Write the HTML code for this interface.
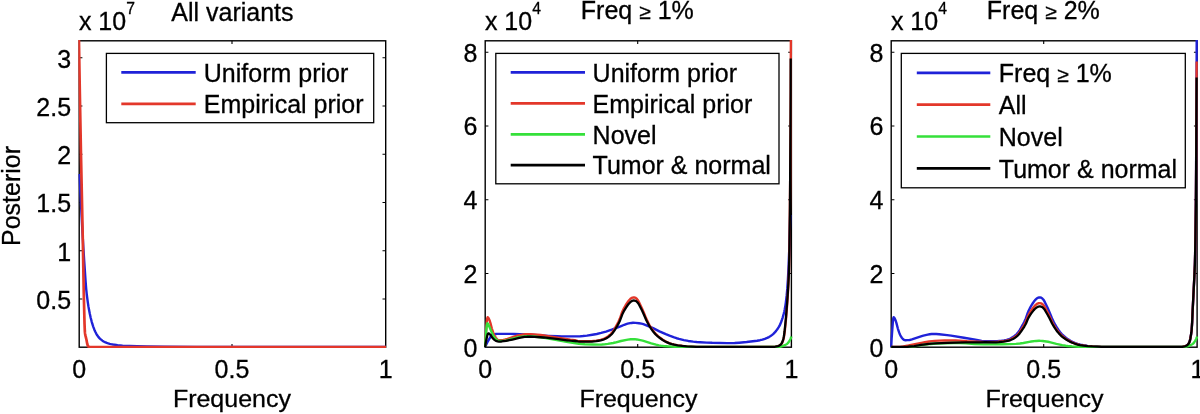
<!DOCTYPE html>
<html><head><meta charset="utf-8"><title>Posterior frequency plots</title>
<style>
html,body{margin:0;padding:0;background:#fff;}
svg{display:block;font-family:"Liberation Sans",Arial,Helvetica,sans-serif;fill:#000;}
text{stroke:#000;stroke-width:0.3px;}
</style></head><body>
<svg width="1200" height="414" viewBox="0 0 1200 414">
<rect x="0" y="0" width="1200" height="414" fill="#fff"/>
<clipPath id="c1"><rect x="78.3" y="40.099999999999994" width="309.5" height="307.79999999999995"/></clipPath>
<rect x="79.2" y="40.8" width="306.5" height="306.4" fill="none" stroke="#000" stroke-width="1.4"/>
<path d="M79.2,298.95 h3.2 M385.7,298.95 h-3.2" stroke="#000" stroke-width="1.1"/>
<path d="M79.2,250.7 h3.2 M385.7,250.7 h-3.2" stroke="#000" stroke-width="1.1"/>
<path d="M79.2,202.45 h3.2 M385.7,202.45 h-3.2" stroke="#000" stroke-width="1.1"/>
<path d="M79.2,154.2 h3.2 M385.7,154.2 h-3.2" stroke="#000" stroke-width="1.1"/>
<path d="M79.2,105.94999999999999 h3.2 M385.7,105.94999999999999 h-3.2" stroke="#000" stroke-width="1.1"/>
<path d="M79.2,57.69999999999999 h3.2 M385.7,57.69999999999999 h-3.2" stroke="#000" stroke-width="1.1"/>
<path d="M232.0,347.2 v-3.2 M232.0,40.8 v3.2" stroke="#000" stroke-width="1.1"/>
<path d="M79.40,174.00 L82.31,229.42 L83.25,245.90 L84.16,260.37 L85.64,281.82 L86.14,288.30 L86.86,295.26 L87.78,302.20 L88.38,306.16 L89.07,310.10 L89.86,314.02 L90.74,317.92 L91.60,321.33 L92.43,324.22 L93.21,326.59 L94.27,329.40 L95.29,331.74 L96.21,333.56 L97.22,335.27 L98.33,336.83 L99.66,338.33 L100.79,339.41 L102.40,340.68 L103.65,341.47 L104.94,342.11 L106.79,342.89 L108.24,343.39 L109.71,343.82 L111.17,344.16 L113.12,344.50 L117.58,345.12 L122.58,345.60 L129.56,346.02 L137.06,346.32 L146.56,346.54 L164.06,346.79 L196.06,347.00 L386.00,347.00" fill="none" stroke="#1f22d8" stroke-width="2.4" stroke-linejoin="round" stroke-linecap="butt" clip-path="url(#c1)"/>
<path d="M78.90,38.00 L79.86,93.99 L80.97,153.48 L82.79,238.96 L83.75,292.45 L84.54,323.97 L84.83,330.95 L84.93,332.43 L85.13,333.91 L85.52,335.88 L86.46,339.79 L87.30,344.17 L87.75,345.54 L88.13,346.21 L88.37,346.46 L88.77,346.69 L89.29,346.88 L89.83,346.99 L90.32,347.00 L386.00,347.00" fill="none" stroke="#e3372a" stroke-width="2.7" stroke-linejoin="round" stroke-linecap="butt" clip-path="url(#c1)"/>
<text x="71.1" y="308.84999999999997" font-size="25" text-anchor="end">0.5</text>
<text x="71.1" y="260.59999999999997" font-size="25" text-anchor="end">1</text>
<text x="71.1" y="212.35" font-size="25" text-anchor="end">1.5</text>
<text x="71.1" y="164.1" font-size="25" text-anchor="end">2</text>
<text x="71.1" y="115.85" font-size="25" text-anchor="end">2.5</text>
<text x="71.1" y="67.6" font-size="25" text-anchor="end">3</text>
<text x="79.2" y="378.4" font-size="25" text-anchor="middle">0</text>
<text x="232.0" y="378.4" font-size="25" text-anchor="middle">0.5</text>
<text x="385.7" y="378.4" font-size="25" text-anchor="middle">1</text>
<text font-size="25" text-anchor="middle" transform="translate(231.89999999999998,407.2) scale(1,0.94)">Frequency</text>
<text x="78.9" y="29.5" font-size="25" text-anchor="start">x 10</text>
<text x="126.30000000000001" y="14.0" font-size="15.7" text-anchor="start">7</text>
<text x="232.39999999999998" y="21.0" font-size="25" text-anchor="middle">All variants</text>
<text font-size="25" text-anchor="middle" transform="translate(20.3,196) rotate(-90)">Posterior</text>
<rect x="106.4" y="53.4" width="267.29999999999995" height="69.30000000000001" fill="#fff" stroke="#000" stroke-width="1.3"/>
<path d="M121.3,72.4 H195.7" stroke="#1f22d8" stroke-width="2.7"/>
<text x="203.8" y="81.60000000000001" font-size="25" text-anchor="start">Uniform prior</text>
<path d="M121.3,103.9 H195.7" stroke="#e3372a" stroke-width="2.7"/>
<text x="203.8" y="113.10000000000001" font-size="25" text-anchor="start">Empirical prior</text>
<clipPath id="c2"><rect x="483.7" y="40.099999999999994" width="309.2" height="307.79999999999995"/></clipPath>
<rect x="485.2" y="40.8" width="306.2" height="306.4" fill="none" stroke="#000" stroke-width="1.4"/>
<path d="M485.2,273.45 h3.2 M791.4,273.45 h-3.2" stroke="#000" stroke-width="1.1"/>
<path d="M485.2,199.7 h3.2 M791.4,199.7 h-3.2" stroke="#000" stroke-width="1.1"/>
<path d="M485.2,125.94999999999999 h3.2 M791.4,125.94999999999999 h-3.2" stroke="#000" stroke-width="1.1"/>
<path d="M485.2,52.19999999999999 h3.2 M791.4,52.19999999999999 h-3.2" stroke="#000" stroke-width="1.1"/>
<path d="M637.7,347.2 v-3.2 M637.7,40.8 v3.2" stroke="#000" stroke-width="1.1"/>
<path d="M485.20,347.00 L486.40,344.25 L487.51,342.01 L488.72,339.82 L490.79,336.33 L491.41,335.59 L492.17,334.96 L493.07,334.43 L493.54,334.25 L494.00,334.17 L495.98,333.97 L497.50,333.90 L510.51,333.90 L514.01,333.97 L526.00,334.48 L548.46,335.83 L557.45,336.23 L561.95,336.37 L566.45,336.40 L573.45,336.33 L580.44,336.19 L582.94,336.04 L586.92,335.61 L592.37,334.75 L596.79,333.96 L601.17,332.93 L605.99,331.55 L611.70,329.73 L620.56,326.29 L624.30,324.76 L626.18,324.08 L627.61,323.69 L630.05,323.18 L631.54,322.94 L633.04,322.81 L635.53,322.88 L639.03,323.26 L641.46,323.67 L643.38,324.20 L645.75,325.06 L651.33,327.36 L653.59,328.42 L659.41,331.33 L665.80,334.20 L669.50,335.71 L674.20,337.43 L676.58,338.23 L678.98,338.93 L683.83,340.10 L688.26,340.94 L693.21,341.60 L696.70,341.95 L700.19,342.21 L706.68,342.59 L712.18,342.82 L727.17,343.09 L731.17,343.09 L734.67,342.97 L739.16,342.68 L746.64,342.05 L757.06,340.71 L760.01,340.20 L762.44,339.61 L764.83,338.86 L767.16,337.94 L768.97,337.06 L770.25,336.32 L771.88,335.14 L773.40,333.84 L774.81,332.42 L776.11,330.90 L777.32,329.30 L778.69,327.21 L779.44,325.91 L780.30,324.11 L781.23,321.78 L782.08,319.43 L782.69,317.53 L783.64,314.16 L784.25,311.73 L784.76,309.28 L785.28,306.33 L785.79,302.87 L786.68,295.42 L787.27,288.94 L787.93,278.97 L788.61,265.48 L789.21,250.49 L789.81,231.50 L790.20,215.00" fill="none" stroke="#1f22d8" stroke-width="2.4" stroke-linejoin="round" stroke-linecap="butt" clip-path="url(#c2)"/>
<path d="M485.20,347.00 L485.33,343.00 L485.57,338.50 L486.78,321.97 L487.02,319.70 L487.25,318.37 L487.51,317.50 L487.71,317.23 L487.82,317.20 L488.20,317.65 L488.74,318.63 L489.30,319.79 L489.88,321.25 L490.45,323.15 L491.84,328.51 L493.12,332.37 L494.05,334.72 L494.95,336.42 L495.81,337.74 L496.49,338.66 L497.25,339.46 L497.64,339.78 L498.05,340.02 L498.46,340.16 L499.33,340.19 L501.87,340.08 L503.39,339.96 L504.36,339.80 L506.29,339.27 L514.86,336.35 L517.26,335.66 L521.17,334.90 L523.66,334.50 L525.65,334.28 L527.65,334.20 L530.64,334.27 L534.13,334.49 L540.62,335.06 L544.09,335.47 L548.04,336.07 L567.30,339.21 L570.27,339.63 L574.74,340.16 L575.71,340.36 L578.13,341.08 L579.11,341.20 L588.61,341.30 L591.61,341.17 L596.08,340.65 L598.07,340.35 L600.54,339.85 L602.92,339.20 L604.31,338.64 L605.66,337.93 L607.37,336.89 L608.59,336.02 L609.76,335.04 L610.84,334.00 L611.81,332.90 L612.72,331.72 L613.84,330.05 L615.14,327.88 L617.10,324.39 L618.48,321.71 L619.90,318.52 L621.68,313.30 L622.41,311.45 L623.92,308.29 L625.65,305.23 L626.98,303.11 L628.13,301.44 L629.07,300.27 L630.09,299.21 L630.86,298.50 L631.69,297.92 L632.59,297.58 L633.59,297.40 L634.08,297.43 L635.07,297.66 L635.51,297.83 L635.93,298.08 L636.34,298.41 L637.08,299.14 L637.68,299.89 L638.22,300.71 L638.93,302.05 L641.75,307.96 L643.76,312.54 L646.00,318.11 L648.15,322.62 L649.58,325.27 L651.12,327.84 L652.80,330.33 L654.33,332.30 L655.99,334.18 L657.78,335.91 L660.12,337.81 L662.56,339.55 L664.68,340.91 L666.43,341.87 L669.16,343.10 L671.52,343.96 L674.41,344.70 L678.36,345.41 L683.32,346.04 L687.81,346.44 L693.30,346.74 L697.30,346.88 L714.79,346.99 L773.29,347.00 L775.29,346.76 L778.20,346.05 L779.15,345.67 L780.02,345.19 L781.19,344.22 L781.82,343.43 L782.47,342.17 L783.01,340.76 L783.45,339.27 L783.80,337.78 L784.24,335.34 L784.89,330.38 L786.16,317.42 L787.28,302.97 L787.83,294.48 L788.33,285.50 L788.93,272.51 L789.29,256.52 L789.60,236.52 L790.24,174.02 L790.62,116.02 L790.90,38.00" fill="none" stroke="#e3372a" stroke-width="2.4" stroke-linejoin="round" stroke-linecap="butt" clip-path="url(#c2)"/>
<path d="M485.20,347.00 L485.32,343.50 L485.53,340.00 L486.49,327.84 L486.76,325.50 L487.01,324.15 L487.30,323.35 L487.52,323.20 L487.87,323.61 L488.63,325.10 L489.82,327.71 L491.70,332.35 L493.01,335.09 L494.00,336.87 L494.86,338.04 L495.89,339.15 L496.69,339.90 L497.56,340.53 L498.00,340.77 L498.45,340.93 L498.90,341.00 L502.88,340.87 L504.38,340.77 L505.36,340.63 L507.30,340.18 L511.65,338.89 L518.47,337.27 L524.41,336.36 L526.40,336.21 L528.39,336.22 L530.89,336.33 L533.88,336.56 L542.33,337.49 L545.78,338.05 L554.15,339.65 L567.94,342.08 L578.83,343.75 L581.81,344.09 L584.79,344.29 L592.79,344.52 L599.29,344.60 L601.78,344.55 L604.27,344.35 L607.76,343.88 L613.18,342.99 L615.13,342.54 L620.95,341.02 L627.84,339.63 L630.81,339.21 L633.29,339.10 L634.77,339.18 L636.76,339.44 L642.66,340.65 L645.06,341.33 L651.24,343.39 L656.09,344.67 L659.02,345.33 L660.99,345.67 L663.46,345.95 L667.44,346.31 L670.94,346.54 L674.44,346.69 L680.94,346.82 L695.94,346.99 L776.44,347.00 L779.93,346.79 L781.40,346.46 L783.29,345.79 L784.71,345.22 L786.07,344.52 L786.88,343.99 L787.61,343.37 L788.29,342.62 L789.46,340.94 L790.60,338.75 L790.98,337.82 L791.40,336.50" fill="none" stroke="#35e03a" stroke-width="2.4" stroke-linejoin="round" stroke-linecap="butt" clip-path="url(#c2)"/>
<path d="M485.20,347.00 L485.39,344.99 L485.68,343.00 L487.11,336.18 L487.42,334.99 L487.78,334.02 L488.20,333.42 L488.43,333.31 L488.70,333.36 L489.06,333.59 L490.31,334.79 L490.96,335.56 L492.63,338.08 L493.66,339.16 L494.44,339.85 L495.26,340.44 L496.13,340.85 L497.56,341.31 L499.06,341.58 L500.05,341.59 L501.54,341.48 L506.01,340.84 L512.38,339.52 L519.20,337.95 L524.63,336.98 L526.12,336.80 L527.61,336.70 L530.60,336.73 L534.10,336.87 L540.60,337.24 L543.59,337.48 L556.51,338.98 L566.93,340.28 L570.41,340.64 L574.89,340.99 L577.87,341.44 L579.36,341.56 L588.86,341.66 L591.85,341.53 L596.33,341.04 L598.32,340.76 L600.79,340.28 L603.18,339.67 L604.12,339.32 L605.50,338.69 L607.26,337.71 L608.51,336.90 L609.72,335.98 L610.86,334.98 L611.88,333.93 L612.83,332.79 L614.00,331.16 L615.37,329.03 L617.18,326.03 L618.63,323.39 L620.12,320.23 L621.84,315.52 L622.60,313.68 L624.20,310.57 L626.03,307.57 L627.43,305.49 L628.34,304.27 L629.32,303.14 L630.39,302.11 L631.18,301.44 L632.04,300.92 L632.97,300.63 L633.97,300.50 L634.47,300.55 L635.44,300.79 L636.31,301.26 L637.44,302.31 L638.32,303.45 L639.08,304.76 L642.05,310.60 L643.95,314.68 L646.33,320.19 L648.14,323.76 L649.63,326.37 L651.23,328.90 L652.68,330.95 L654.24,332.89 L655.94,334.74 L657.77,336.42 L660.16,338.27 L662.64,339.94 L664.79,341.24 L666.57,342.16 L669.33,343.33 L671.70,344.15 L674.12,344.74 L677.57,345.37 L682.03,345.94 L686.52,346.37 L691.01,346.64 L696.00,346.85 L707.00,346.96 L773.50,346.99 L775.49,346.72 L777.92,346.14 L779.35,345.58 L780.18,345.07 L780.56,344.75 L781.25,343.98 L781.78,343.15 L782.40,341.83 L783.07,339.91 L783.46,338.42 L783.85,336.47 L784.56,331.53 L785.86,318.57 L787.17,302.13 L787.76,293.65 L788.37,283.66 L788.92,272.68 L789.24,259.68 L789.52,243.69 L789.95,206.18 L790.52,122.19 L790.66,89.19 L790.70,58.50" fill="none" stroke="#000000" stroke-width="2.3" stroke-linejoin="round" stroke-linecap="butt" clip-path="url(#c2)"/>
<text x="477.4" y="356.7" font-size="25" text-anchor="end">0</text>
<text x="477.4" y="282.95" font-size="25" text-anchor="end">2</text>
<text x="477.4" y="209.2" font-size="25" text-anchor="end">4</text>
<text x="477.4" y="135.45" font-size="25" text-anchor="end">6</text>
<text x="477.4" y="61.69999999999999" font-size="25" text-anchor="end">8</text>
<text x="485.2" y="378.4" font-size="25" text-anchor="middle">0</text>
<text x="637.7" y="378.4" font-size="25" text-anchor="middle">0.5</text>
<text x="791.4" y="378.4" font-size="25" text-anchor="middle">1</text>
<text font-size="25" text-anchor="middle" transform="translate(638.4,407.2) scale(1,0.94)">Frequency</text>
<text x="484.9" y="29.5" font-size="25" text-anchor="start">x 10</text>
<text x="532.3" y="14.0" font-size="15.7" text-anchor="start">4</text>
<text x="580.8" y="19.4" font-size="25" text-anchor="start">Freq <tspan font-size="21">≥</tspan> 1%</text>
<rect x="495.8" y="53.4" width="283.2" height="130.4" fill="#fff" stroke="#000" stroke-width="1.3"/>
<path d="M510.7,72.3 H585" stroke="#1f22d8" stroke-width="2.7"/>
<text x="592.6" y="81.5" font-size="25" text-anchor="start">Uniform prior</text>
<path d="M510.7,103.3 H585" stroke="#e3372a" stroke-width="2.7"/>
<text x="592.6" y="112.5" font-size="25" text-anchor="start">Empirical prior</text>
<path d="M510.7,134.3 H585" stroke="#35e03a" stroke-width="2.7"/>
<text x="592.6" y="143.5" font-size="25" text-anchor="start">Novel</text>
<path d="M510.7,165.2 H585" stroke="#000000" stroke-width="2.7"/>
<text x="592.6" y="174.39999999999998" font-size="25" text-anchor="start">Tumor &amp; normal</text>
<clipPath id="c3"><rect x="889.7" y="40.099999999999994" width="308.89999999999986" height="307.79999999999995"/></clipPath>
<rect x="891.2" y="40.8" width="305.89999999999986" height="306.4" fill="none" stroke="#000" stroke-width="1.4"/>
<path d="M891.2,273.45 h3.2 M1197.1,273.45 h-3.2" stroke="#000" stroke-width="1.1"/>
<path d="M891.2,199.7 h3.2 M1197.1,199.7 h-3.2" stroke="#000" stroke-width="1.1"/>
<path d="M891.2,125.94999999999999 h3.2 M1197.1,125.94999999999999 h-3.2" stroke="#000" stroke-width="1.1"/>
<path d="M891.2,52.19999999999999 h3.2 M1197.1,52.19999999999999 h-3.2" stroke="#000" stroke-width="1.1"/>
<path d="M1043.7,347.2 v-3.2 M1043.7,40.8 v3.2" stroke="#000" stroke-width="1.1"/>
<path d="M891.20,347.00 L891.61,339.01 L892.90,321.36 L893.28,318.37 L893.52,317.49 L893.71,317.23 L893.82,317.20 L894.19,317.66 L894.74,318.64 L895.30,319.80 L895.88,321.25 L896.45,323.16 L897.84,328.51 L899.12,332.39 L900.05,334.75 L900.95,336.43 L901.83,337.70 L902.54,338.59 L903.32,339.37 L903.73,339.69 L904.57,340.12 L905.44,340.20 L907.44,340.11 L909.47,339.95 L910.44,339.78 L911.89,339.39 L920.95,336.36 L923.34,335.66 L927.74,334.64 L929.71,334.25 L931.70,333.98 L933.19,333.90 L936.16,333.98 L939.16,334.22 L947.13,335.13 L951.09,335.65 L963.93,337.69 L976.74,339.93 L981.67,340.87 L984.15,341.16 L993.64,341.30 L995.64,341.28 L997.14,341.20 L1001.62,340.70 L1004.10,340.33 L1006.57,339.82 L1008.94,339.16 L1009.87,338.79 L1011.23,338.12 L1012.96,337.09 L1014.19,336.24 L1015.37,335.29 L1016.48,334.26 L1017.48,333.18 L1018.40,332.02 L1019.54,330.37 L1020.85,328.20 L1022.83,324.71 L1024.21,322.04 L1025.84,318.39 L1027.62,313.18 L1028.36,311.33 L1029.89,308.17 L1031.62,305.12 L1032.95,303.00 L1034.11,301.34 L1035.05,300.18 L1036.09,299.12 L1036.86,298.42 L1037.70,297.86 L1038.61,297.55 L1039.61,297.40 L1040.12,297.45 L1041.09,297.70 L1041.52,297.89 L1041.94,298.16 L1043.06,299.24 L1043.66,299.99 L1044.18,300.82 L1044.89,302.17 L1047.70,308.08 L1049.51,312.20 L1051.96,318.23 L1053.89,322.29 L1055.30,324.94 L1056.82,327.52 L1058.49,330.03 L1059.99,332.02 L1061.98,334.28 L1063.78,335.99 L1066.13,337.89 L1068.57,339.62 L1070.69,340.98 L1072.44,341.92 L1075.18,343.15 L1077.55,344.00 L1080.44,344.73 L1083.40,345.28 L1087.36,345.82 L1091.84,346.30 L1095.83,346.57 L1101.33,346.83 L1111.32,346.95 L1180.32,347.00 L1181.33,346.93 L1182.83,346.72 L1185.26,346.17 L1186.69,345.55 L1187.49,345.01 L1187.81,344.70 L1188.42,343.93 L1189.20,342.56 L1189.60,341.60 L1190.01,340.20 L1190.43,338.23 L1191.08,334.26 L1191.67,329.80 L1192.14,322.32 L1192.66,310.32 L1194.51,273.37 L1194.94,262.38 L1195.27,247.38 L1195.56,229.89 L1195.99,188.89 L1196.53,94.39 L1196.70,38.00" fill="none" stroke="#1f22d8" stroke-width="2.4" stroke-linejoin="round" stroke-linecap="butt" clip-path="url(#c3)"/>
<path d="M891.20,347.00 L898.70,346.85 L900.69,346.76 L902.18,346.60 L908.60,345.54 L921.33,342.87 L924.77,342.24 L929.22,341.55 L932.20,341.16 L934.69,340.92 L939.67,340.58 L944.67,340.40 L955.67,340.51 L959.17,340.67 L967.15,341.25 L970.64,341.42 L984.64,341.86 L995.14,341.95 L998.13,341.78 L1003.11,341.24 L1006.09,340.74 L1008.98,340.05 L1009.92,339.71 L1011.31,339.10 L1013.08,338.16 L1014.35,337.37 L1015.58,336.48 L1016.73,335.50 L1017.43,334.82 L1018.42,333.72 L1019.64,332.13 L1020.79,330.46 L1022.69,327.51 L1024.21,324.91 L1025.79,321.79 L1027.60,317.12 L1028.42,315.31 L1029.86,312.67 L1031.76,309.72 L1033.23,307.68 L1034.18,306.50 L1035.20,305.41 L1035.94,304.76 L1036.74,304.10 L1037.60,303.56 L1038.51,303.26 L1039.52,303.11 L1040.02,303.13 L1041.00,303.34 L1041.45,303.50 L1041.89,303.74 L1043.07,304.74 L1043.99,305.85 L1044.78,307.14 L1047.66,312.47 L1049.65,316.50 L1051.94,321.51 L1053.83,325.03 L1055.38,327.61 L1056.76,329.68 L1058.26,331.69 L1059.87,333.60 L1061.62,335.40 L1063.50,337.03 L1065.51,338.52 L1068.03,340.15 L1070.21,341.41 L1071.99,342.31 L1074.77,343.44 L1077.15,344.24 L1079.57,344.82 L1083.02,345.42 L1086.50,345.86 L1090.98,346.31 L1094.47,346.55 L1100.46,346.82 L1109.46,346.95 L1124.46,347.00 L1180.46,346.99 L1182.47,346.78 L1184.90,346.27 L1186.36,345.73 L1187.22,345.21 L1187.58,344.93 L1188.21,344.23 L1189.03,342.91 L1189.47,341.95 L1189.92,340.55 L1190.36,338.60 L1191.03,334.62 L1191.40,332.15 L1191.68,329.66 L1192.15,322.19 L1192.67,310.19 L1194.49,273.73 L1194.90,263.74 L1195.20,250.75 L1195.50,234.25 L1195.92,197.25 L1196.26,147.25 L1196.65,61.40" fill="none" stroke="#e3372a" stroke-width="2.4" stroke-linejoin="round" stroke-linecap="butt" clip-path="url(#c3)"/>
<path d="M891.20,347.20 L904.70,347.10 L908.20,346.94 L914.16,346.35 L921.57,345.16 L927.52,344.29 L930.49,343.93 L936.97,343.50 L944.47,343.21 L953.47,343.03 L959.47,343.02 L965.96,343.36 L974.43,344.07 L983.43,344.39 L1002.43,344.32 L1009.93,344.16 L1015.92,343.84 L1019.90,343.46 L1023.37,343.00 L1029.26,341.83 L1031.23,341.50 L1036.21,340.93 L1039.20,340.80 L1040.69,340.85 L1042.69,341.03 L1048.14,341.79 L1050.57,342.33 L1056.39,343.87 L1062.27,345.11 L1065.72,345.72 L1067.70,345.97 L1072.17,346.39 L1078.67,346.82 L1082.16,346.90 L1107.16,346.99 L1182.67,346.98 L1185.66,346.78 L1187.12,346.45 L1189.01,345.79 L1190.43,345.21 L1191.79,344.51 L1192.60,343.98 L1193.32,343.35 L1194.00,342.60 L1195.17,340.92 L1196.31,338.73 L1196.69,337.79 L1197.10,336.50" fill="none" stroke="#35e03a" stroke-width="2.4" stroke-linejoin="round" stroke-linecap="butt" clip-path="url(#c3)"/>
<path d="M891.20,347.00 L904.70,346.90 L907.69,346.76 L914.15,346.03 L921.07,344.93 L929.00,343.80 L931.48,343.54 L935.47,343.29 L947.46,342.83 L965.46,342.46 L980.46,342.40 L984.96,342.25 L995.96,342.31 L998.95,342.11 L1003.43,341.64 L1006.41,341.17 L1008.83,340.64 L1009.78,340.35 L1011.19,339.79 L1013.00,338.92 L1014.30,338.19 L1015.57,337.35 L1016.76,336.42 L1017.49,335.77 L1018.52,334.71 L1019.81,333.17 L1021.01,331.53 L1023.00,328.65 L1024.34,326.53 L1025.33,324.78 L1026.01,323.45 L1027.74,319.29 L1028.39,317.94 L1029.90,315.35 L1031.61,312.87 L1033.78,310.10 L1034.81,309.00 L1035.54,308.34 L1036.73,307.40 L1037.60,306.87 L1038.52,306.57 L1039.52,306.41 L1040.02,306.42 L1041.02,306.60 L1041.92,306.96 L1043.15,307.90 L1044.11,308.97 L1044.94,310.24 L1047.74,315.03 L1049.63,318.55 L1052.07,323.48 L1054.09,326.94 L1055.74,329.44 L1057.22,331.45 L1058.83,333.38 L1060.19,334.83 L1062.03,336.54 L1064.00,338.07 L1066.09,339.46 L1068.68,340.97 L1070.46,341.91 L1072.28,342.74 L1075.08,343.78 L1077.49,344.51 L1079.92,345.03 L1083.38,345.58 L1087.86,346.08 L1092.34,346.45 L1101.84,346.87 L1113.33,346.97 L1180.33,347.00 L1182.34,346.80 L1184.79,346.30 L1186.24,345.78 L1187.12,345.28 L1187.49,345.01 L1188.13,344.33 L1188.97,343.02 L1189.42,342.07 L1189.89,340.67 L1190.33,338.72 L1190.93,335.24 L1191.38,332.27 L1191.67,329.79 L1192.14,322.31 L1192.66,310.32 L1194.46,274.36 L1194.86,264.87 L1195.14,253.87 L1195.45,237.38 L1195.88,202.38 L1196.19,159.88 L1196.60,77.60" fill="none" stroke="#000000" stroke-width="2.3" stroke-linejoin="round" stroke-linecap="butt" clip-path="url(#c3)"/>
<text x="883.4" y="356.7" font-size="25" text-anchor="end">0</text>
<text x="883.4" y="282.95" font-size="25" text-anchor="end">2</text>
<text x="883.4" y="209.2" font-size="25" text-anchor="end">4</text>
<text x="883.4" y="135.45" font-size="25" text-anchor="end">6</text>
<text x="883.4" y="61.69999999999999" font-size="25" text-anchor="end">8</text>
<text x="891.2" y="378.4" font-size="25" text-anchor="middle">0</text>
<text x="1043.7" y="378.4" font-size="25" text-anchor="middle">0.5</text>
<text x="1197.5" y="378.4" font-size="25" text-anchor="middle">1</text>
<text font-size="25" text-anchor="middle" transform="translate(1044.4,407.2) scale(1,0.94)">Frequency</text>
<text x="890.9000000000001" y="29.5" font-size="25" text-anchor="start">x 10</text>
<text x="938.3000000000001" y="14.0" font-size="15.7" text-anchor="start">4</text>
<text x="986.8" y="19.4" font-size="25" text-anchor="start">Freq <tspan font-size="21">≥</tspan> 2%</text>
<rect x="901.3" y="53.4" width="284.0" height="134.4" fill="#fff" stroke="#000" stroke-width="1.3"/>
<path d="M916.8,72.8 H990.3" stroke="#1f22d8" stroke-width="2.7"/>
<text x="998.8" y="82.0" font-size="25" text-anchor="start">Freq <tspan font-size="21">≥</tspan> 1%</text>
<path d="M916.8,104.6 H990.3" stroke="#e3372a" stroke-width="2.7"/>
<text x="998.8" y="113.8" font-size="25" text-anchor="start">All</text>
<path d="M916.8,136.5 H990.3" stroke="#35e03a" stroke-width="2.7"/>
<text x="998.8" y="145.7" font-size="25" text-anchor="start">Novel</text>
<path d="M916.8,168.4 H990.3" stroke="#000000" stroke-width="2.7"/>
<text x="998.8" y="177.6" font-size="25" text-anchor="start">Tumor &amp; normal</text>
</svg>
</body></html>
